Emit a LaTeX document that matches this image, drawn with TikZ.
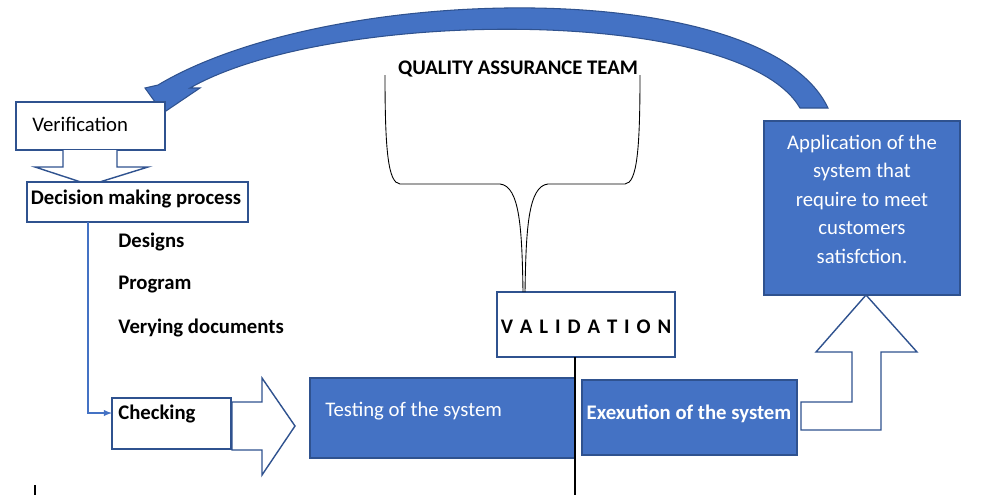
\documentclass[tikz,border=0pt]{standalone}
\usepackage{fontspec}
\setmainfont{Carlito}
\definecolor{bfill}{HTML}{4472C4}
\definecolor{bline}{HTML}{2F528F}
\begin{document}
\begin{tikzpicture}[x=0.02cm,y=-0.02cm,
  wbox/.style={draw=bline,line width=0.8pt,fill=white},
  bbox/.style={draw=bline,line width=0.8pt,fill=bfill},
  hollow/.style={draw=bline,line width=0.8pt,fill=white,line join=miter},
  txt/.style={font=\fontsize{11.8}{14}\selectfont,inner sep=0pt},
  btxt/.style={font=\fontsize{11.8}{14}\selectfont\bfseries,inner sep=0pt}]
\useasboundingbox (0,0) rectangle (1000,495);
% curved arrow
\filldraw[fill=bfill,draw=bline,line width=0.6pt,line join=miter]
  (158,85) .. controls (330,-18) and (765,-25) .. (828,108) -- (800,108)
  .. controls (740,5) and (330,8) .. (190,88) -- (200,88) -- (163,113) -- (145,88) -- cycle;
% verification
\draw[wbox] (16,102) rectangle (165,150);
\node[txt,anchor=west] (ver) at (32,124) {Verification};
\draw[hollow] (63,150) -- (63,167) -- (35,167) -- (90,185) -- (148,167) -- (117,167) -- (117,150);
% decision
\draw[wbox] (27,182) rectangle (248,222);
\node[btxt] (dec) at (136,199) {Decision making process};
\node[btxt,anchor=west] (d1) at (118,242) {Designs};
\node[btxt,anchor=west] (d2) at (118,285) {Program};
\node[btxt,anchor=west] (d3) at (118,328) {Verying documents};
% checking
\draw[wbox] (112,398) rectangle (231,449);
\node[btxt,anchor=west] (chk) at (118,414) {Checking};
\coordinate (ds) at (88,222);
\coordinate (ck) at (112,413);
\draw[bfill,line width=0.6pt,-latex] (ds) |- (ck);
% right hollow arrow
\draw[hollow] (232,402) -- (262,402) -- (262,378) -- (295,426) -- (262,475) -- (262,450) -- (232,450) -- cycle;
% testing
\draw[bbox] (310,378) rectangle (575,458);
\node[txt,text=white,anchor=west] (tst) at (325,411) {Testing of the system};
% execution
\draw[bbox] (582,380) rectangle (797,455);
\node[btxt,text=white] (exe) at (689,414) {Exexution of the system};
% validation
\draw[wbox] (497,292) rectangle (675,357);
\node[btxt] (val) at (586,327) {V\,\,A\,\,L\,\,I\,\,D\,\,A\,\,T\,\,I\,\,O\,\,N};
\coordinate (vt) at (575,357);
\coordinate (vb) at (575,495);
\draw[line width=0.8pt] (vt) -- (vb);
% up hollow arrow
\draw[hollow] (801,430) -- (801,402) -- (852,402) -- (852,352) -- (816,352) -- (866,295) -- (917,352) -- (881,352) -- (881,430) -- cycle;
% application
\draw[bbox] (764,121) rectangle (960,295);
\node[txt,text=white,align=center,font=\fontsize{11.8}{16.2}\selectfont] (app) at (862,199)
  {Application of the\\system that\\require to meet\\customers\\satisfction.};
% QA
\node[btxt] (qa) at (518,69) {QUALITY ASSURANCE TEAM};
\draw[line width=0.5pt] (385,75) .. controls (385,150) and (388,183) .. (400,184)
  -- (500,184) .. controls (520,186) and (522,230) .. (523,292);
\draw[line width=0.5pt] (640,75) .. controls (640,150) and (637,183) .. (625,184)
  -- (548,184) .. controls (528,186) and (526,230) .. (525,292);
\draw[line width=0.6pt] (35,485) -- (35,495);
\end{tikzpicture}
\end{document}
